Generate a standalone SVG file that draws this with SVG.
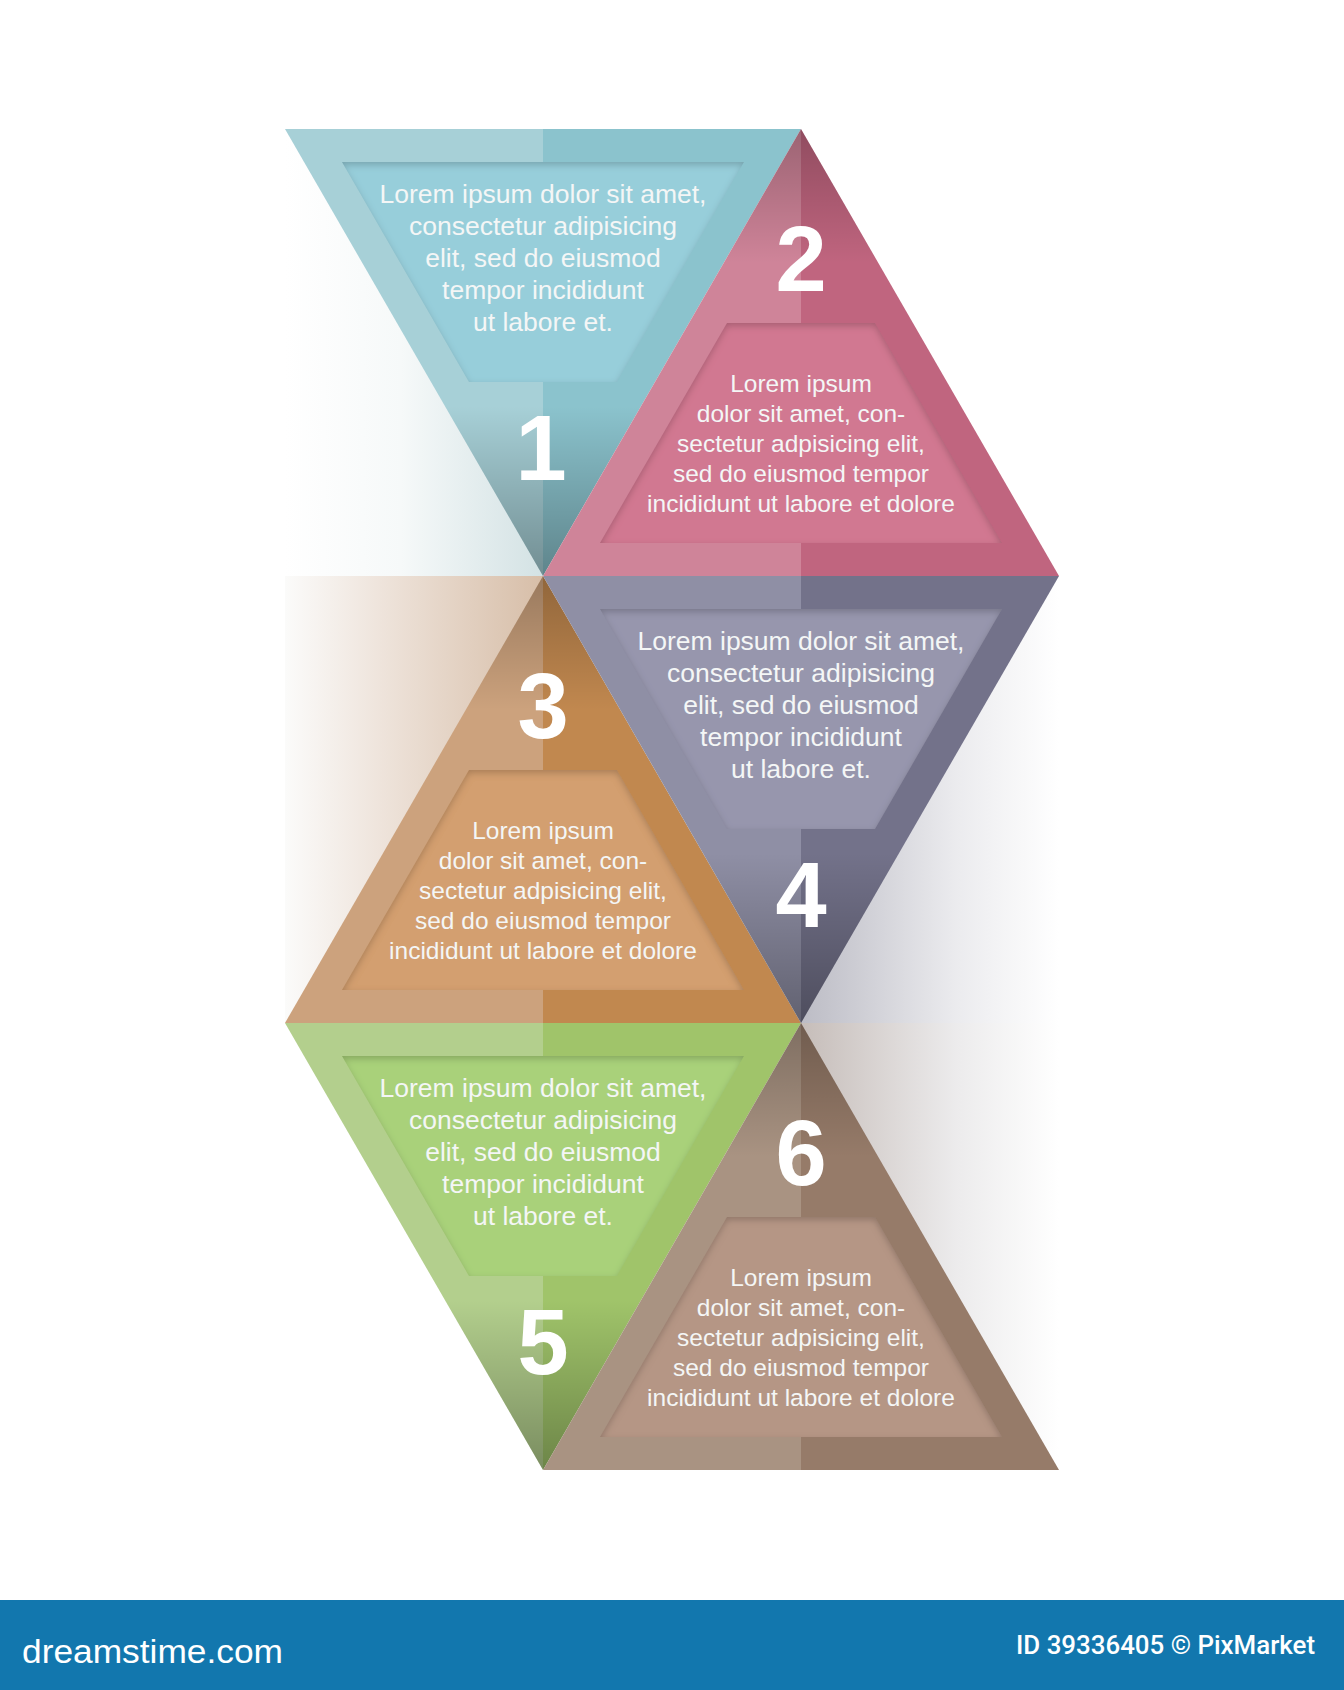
<svg xmlns="http://www.w3.org/2000/svg" width="1344" height="1690" viewBox="0 0 1344 1690">
<defs>
<style>
.txt{font-family:"Liberation Sans",Arial,sans-serif;fill:#f4f6f6;text-anchor:middle}
.td{font-size:26.5px}
.tu{font-size:24.5px}
.num{font-family:"Liberation Sans",Arial,sans-serif;font-weight:bold;font-size:92px;fill:#ffffff;text-anchor:middle}
</style>
<linearGradient id="apexDown" x1="0" y1="0" x2="0" y2="1">
<stop offset="0.62" stop-color="#000" stop-opacity="0"/>
<stop offset="1" stop-color="#000" stop-opacity="0.32"/>
</linearGradient>
<linearGradient id="apexUp" x1="0" y1="0" x2="0" y2="1">
<stop offset="0" stop-color="#000" stop-opacity="0.25"/>
<stop offset="0.3" stop-color="#000" stop-opacity="0"/>
</linearGradient>
<linearGradient id="sh1" x1="0" y1="0" x2="1" y2="0">
<stop offset="0" stop-color="#ffffff"/>
<stop offset="0.45" stop-color="#f6f9f9"/>
<stop offset="1" stop-color="#d3e2e4"/>
</linearGradient>
<linearGradient id="sh3" x1="0" y1="0" x2="1" y2="0">
<stop offset="0" stop-color="#fbfbfa"/>
<stop offset="0.35" stop-color="#efe5dd"/>
<stop offset="1" stop-color="#d7bea8"/>
</linearGradient>
<linearGradient id="sh4" x1="0" y1="0" x2="1" y2="0">
<stop offset="0" stop-color="#bcbcc5"/>
<stop offset="0.6" stop-color="#ebebee"/>
<stop offset="1" stop-color="#ffffff"/>
</linearGradient>
<linearGradient id="sh6" x1="0" y1="0" x2="1" y2="0">
<stop offset="0" stop-color="#c6bdb9"/>
<stop offset="0.6" stop-color="#ecebec"/>
<stop offset="1" stop-color="#ffffff"/>
</linearGradient>
<filter id="inset" x="-5%" y="-5%" width="110%" height="110%">
<feFlood flood-color="#000" flood-opacity="0.4" result="f"/>
<feComposite in="f" in2="SourceAlpha" operator="out" result="o"/>
<feGaussianBlur in="o" stdDeviation="3.5" result="b"/>
<feOffset in="b" dx="0" dy="2.5" result="s"/>
<feComposite in="s" in2="SourceAlpha" operator="in" result="dark"/>
<feMerge><feMergeNode in="SourceGraphic"/><feMergeNode in="dark"/></feMerge>
</filter>
</defs>
<rect width="1344" height="1690" fill="#ffffff"/>

<g id="shadows">
<rect x="285" y="129" width="258" height="447" fill="url(#sh1)"/>
<rect x="285" y="576" width="258" height="447" fill="url(#sh3)"/>
<rect x="801" y="576" width="258" height="447" fill="url(#sh4)"/>
<rect x="801" y="1023" width="258" height="447" fill="url(#sh6)"/>
</g>

<g id="node1">
<polygon points="285,129 543,129 543,576" fill="#a7d0d7"/>
<polygon points="543,129 801,129 543,576" fill="#8bc3cd"/>
<polygon points="285,129 801,129 543,576" fill="url(#apexDown)"/>
<polygon points="342,162 744,162 617,382 469,382" fill="#97ceda" filter="url(#inset)"/>
<text class="txt td" x="543" y="203">Lorem ipsum dolor sit amet,</text>
<text class="txt td" x="543" y="235">consectetur adipisicing</text>
<text class="txt td" x="543" y="267">elit, sed do eiusmod</text>
<text class="txt td" x="543" y="299">tempor incididunt</text>
<text class="txt td" x="543" y="331">ut labore et.</text>
<text class="num" x="541" y="480">1</text>
</g>

<g id="node2">
<polygon points="801,129 801,576 543,576" fill="#cf8499"/>
<polygon points="801,129 1059,576 801,576" fill="#c0657f"/>
<polygon points="801,129 1059,576 543,576" fill="url(#apexUp)"/>
<polygon points="727,323 875,323 1002,543 600,543" fill="#d17891" filter="url(#inset)"/>
<text class="txt tu" x="801" y="392">Lorem ipsum</text>
<text class="txt tu" x="801" y="422">dolor sit amet, con-</text>
<text class="txt tu" x="801" y="452">sectetur adpisicing elit,</text>
<text class="txt tu" x="801" y="482">sed do eiusmod tempor</text>
<text class="txt tu" x="801" y="512">incididunt ut labore et dolore</text>
<text class="num" x="801" y="291">2</text>
</g>

<g id="node3">
<polygon points="543,576 543,1023 285,1023" fill="#cca27d"/>
<polygon points="543,576 801,1023 543,1023" fill="#c1884f"/>
<polygon points="543,576 801,1023 285,1023" fill="url(#apexUp)"/>
<polygon points="469,770 617,770 744,990 342,990" fill="#d39f6f" filter="url(#inset)"/>
<text class="txt tu" x="543" y="839">Lorem ipsum</text>
<text class="txt tu" x="543" y="869">dolor sit amet, con-</text>
<text class="txt tu" x="543" y="899">sectetur adpisicing elit,</text>
<text class="txt tu" x="543" y="929">sed do eiusmod tempor</text>
<text class="txt tu" x="543" y="959">incididunt ut labore et dolore</text>
<text class="num" x="543" y="738">3</text>
</g>

<g id="node4">
<polygon points="543,576 801,576 801,1023" fill="#8f8fa5"/>
<polygon points="801,576 1059,576 801,1023" fill="#73728a"/>
<polygon points="543,576 1059,576 801,1023" fill="url(#apexDown)"/>
<polygon points="600,609 1002,609 875,829 727,829" fill="#9796ad" filter="url(#inset)"/>
<text class="txt td" x="801" y="650">Lorem ipsum dolor sit amet,</text>
<text class="txt td" x="801" y="682">consectetur adipisicing</text>
<text class="txt td" x="801" y="714">elit, sed do eiusmod</text>
<text class="txt td" x="801" y="746">tempor incididunt</text>
<text class="txt td" x="801" y="778">ut labore et.</text>
<text class="num" x="801" y="927">4</text>
</g>

<g id="node5">
<polygon points="285,1023 543,1023 543,1470" fill="#b3cf8d"/>
<polygon points="543,1023 801,1023 543,1470" fill="#a0c46a"/>
<polygon points="285,1023 801,1023 543,1470" fill="url(#apexDown)"/>
<polygon points="342,1056 744,1056 617,1276 469,1276" fill="#a9d17a" filter="url(#inset)"/>
<text class="txt td" x="543" y="1097">Lorem ipsum dolor sit amet,</text>
<text class="txt td" x="543" y="1129">consectetur adipisicing</text>
<text class="txt td" x="543" y="1161">elit, sed do eiusmod</text>
<text class="txt td" x="543" y="1193">tempor incididunt</text>
<text class="txt td" x="543" y="1225">ut labore et.</text>
<text class="num" x="543" y="1374">5</text>
</g>

<g id="node6">
<polygon points="801,1023 801,1470 543,1470" fill="#a99382"/>
<polygon points="801,1023 1059,1470 801,1470" fill="#967b69"/>
<polygon points="801,1023 1059,1470 543,1470" fill="url(#apexUp)"/>
<polygon points="727,1217 875,1217 1002,1437 600,1437" fill="#b59685" filter="url(#inset)"/>
<text class="txt tu" x="801" y="1286">Lorem ipsum</text>
<text class="txt tu" x="801" y="1316">dolor sit amet, con-</text>
<text class="txt tu" x="801" y="1346">sectetur adpisicing elit,</text>
<text class="txt tu" x="801" y="1376">sed do eiusmod tempor</text>
<text class="txt tu" x="801" y="1406">incididunt ut labore et dolore</text>
<text class="num" x="801" y="1185">6</text>
</g>

<g id="connectors"></g>

<g id="footer">
<rect x="0" y="1600" width="1344" height="90" fill="#1277ae"/>
<text x="22" y="1663" font-family="Liberation Sans, Arial, sans-serif" font-size="33" fill="#ffffff" textLength="261" lengthAdjust="spacingAndGlyphs">dreamstime.com</text>
<text x="1016" y="1654" font-family="Roboto, Liberation Sans, sans-serif" font-size="26" font-weight="500" fill="#ffffff" textLength="299" lengthAdjust="spacingAndGlyphs">ID 39336405 © PixMarket</text>
</g>
</svg>
